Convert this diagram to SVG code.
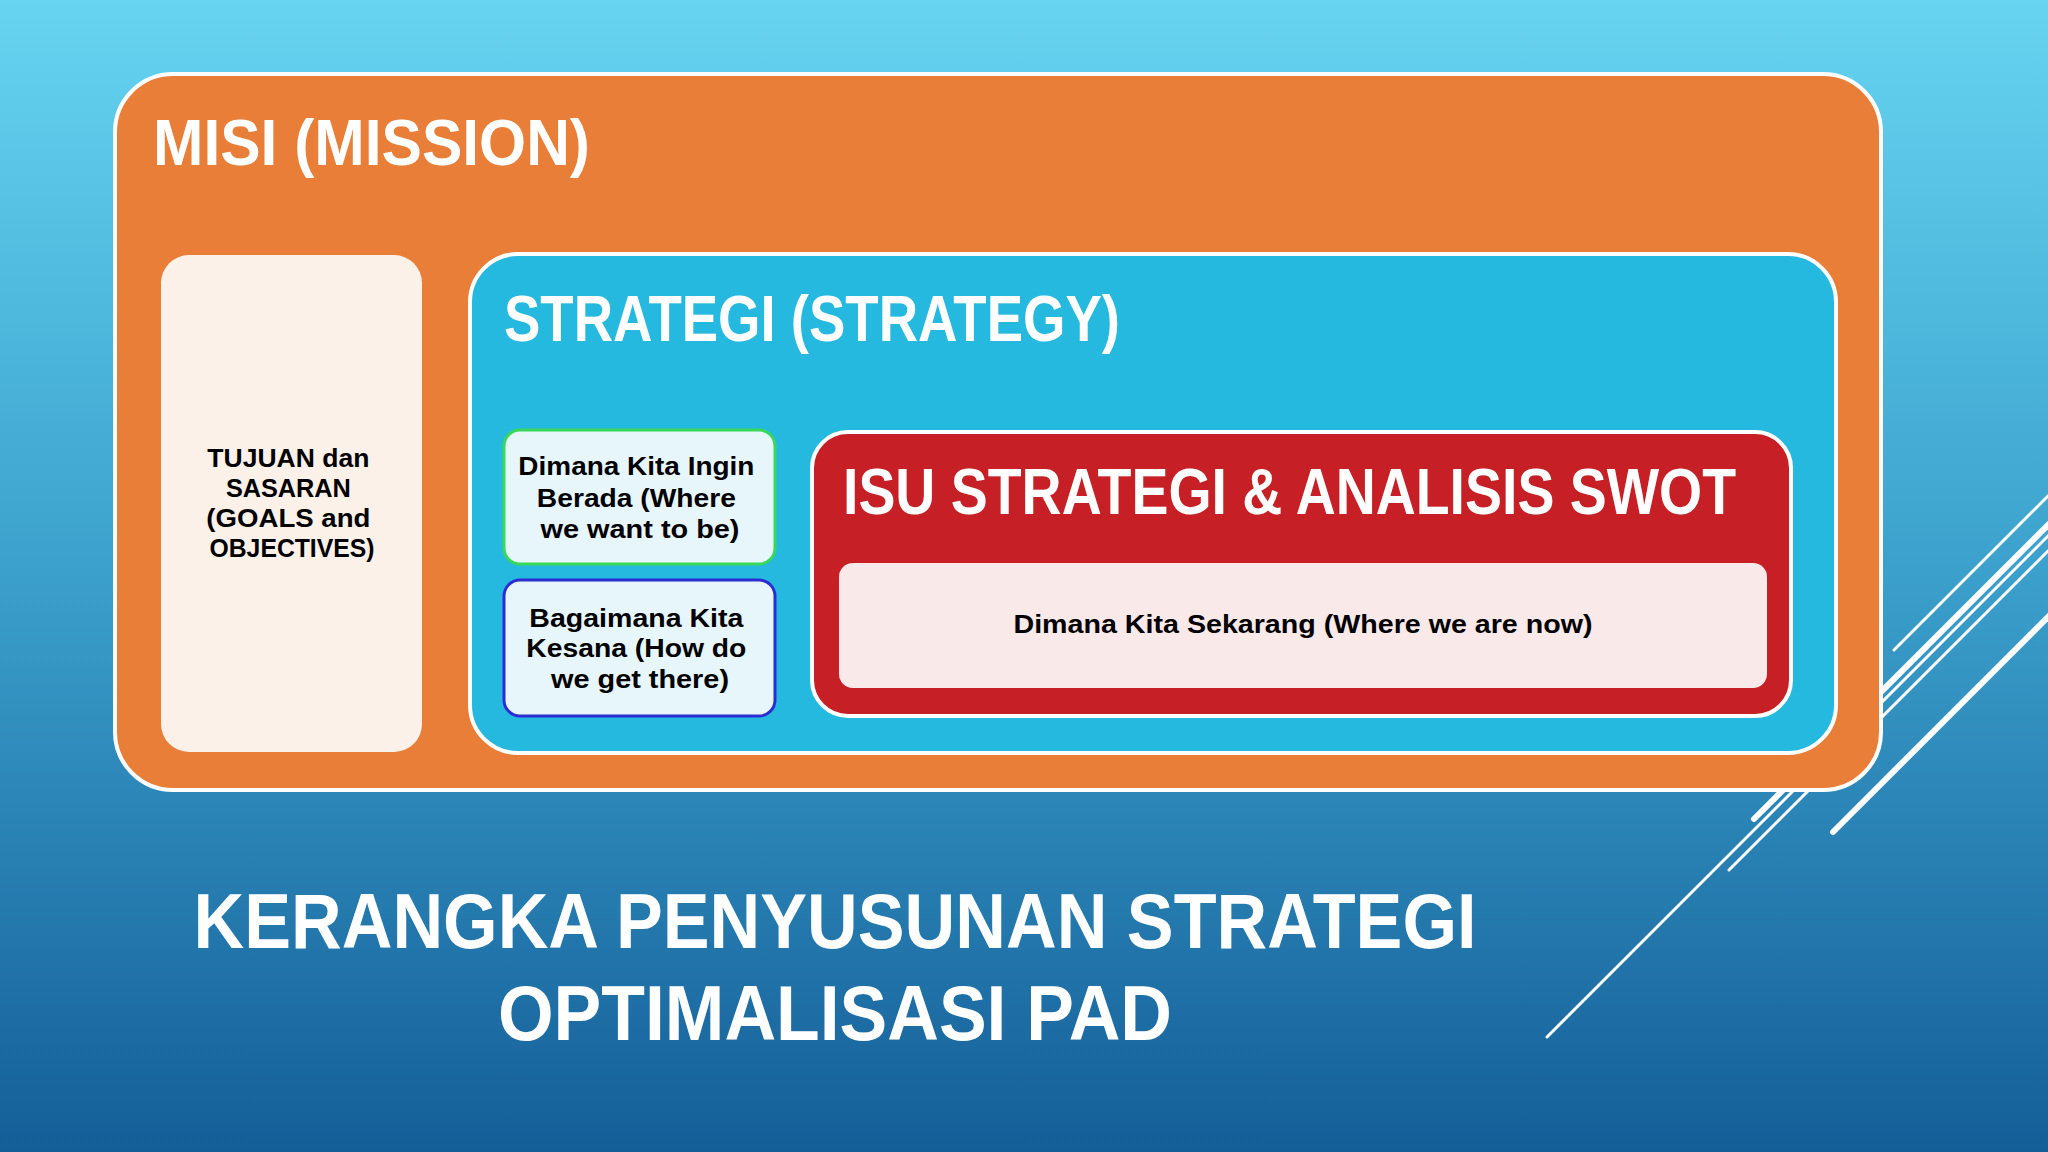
<svg xmlns="http://www.w3.org/2000/svg" width="2048" height="1152" viewBox="0 0 2048 1152">
  <defs>
    <linearGradient id="bg" x1="0" y1="0" x2="0" y2="1">
      <stop offset="0" stop-color="#67D4F1"/>
      <stop offset="0.45" stop-color="#3FA6D0"/>
      <stop offset="1" stop-color="#145E98"/>
    </linearGradient>
    <style>
      .head { font-family: "Liberation Sans", Arial, sans-serif; font-weight: 700; fill: #FFFFFF; }
      .body { font-family: "Liberation Sans", Arial, sans-serif; font-weight: 700; fill: #000000; }
      .deco { stroke: #FFFFFF; stroke-linecap: round; fill: none; }
      .thin { stroke-width: 3; }
      .thick { stroke-width: 6; }
      .box { stroke: #FFFFFF; stroke-width: 4; }
    </style>
  </defs>

  <rect x="0" y="0" width="2048" height="1152" fill="url(#bg)"/>

  <g id="decor-lines">
    <line class="deco thin" x1="1894" y1="650" x2="2060" y2="484"/>
    <line class="deco thick" x1="1754" y1="819" x2="2060" y2="513"/>
    <line class="deco thin" x1="1547" y1="1037" x2="2060" y2="524"/>
    <line class="deco thin" x1="1729" y1="870" x2="2060" y2="539"/>
    <line class="deco thick" x1="1833" y1="832" x2="2060" y2="605"/>
  </g>

  <g id="misi">
    <rect class="box" x="115" y="74" width="1766" height="716" rx="58" fill="#E87E37"/>
    <text class="head" x="153" y="165" font-size="64" textLength="437" lengthAdjust="spacingAndGlyphs">MISI (MISSION)</text>
  </g>

  <g id="tujuan">
    <rect x="161" y="255" width="261" height="497" rx="28" fill="#FBF1E9"/>
    <text class="body" font-size="26" text-anchor="middle">
      <tspan x="292" y="467" textLength="162" lengthAdjust="spacingAndGlyphs">TUJUAN dan</tspan>
      <tspan x="292" y="497" textLength="125" lengthAdjust="spacingAndGlyphs">SASARAN</tspan>
      <tspan x="292" y="527" textLength="164" lengthAdjust="spacingAndGlyphs">(GOALS and</tspan>
      <tspan x="292" y="557" textLength="165" lengthAdjust="spacingAndGlyphs">OBJECTIVES)</tspan>
    </text>
  </g>

  <g id="strategi">
    <rect class="box" x="470" y="254" width="1366" height="499" rx="48" fill="#26B9DF"/>
    <text class="head" x="504" y="341" font-size="64" textLength="616" lengthAdjust="spacingAndGlyphs">STRATEGI (STRATEGY)</text>
  </g>

  <g id="dimana-ingin">
    <rect x="504" y="430" width="271" height="134" rx="16" fill="#E6F6FA" stroke="#38D85A" stroke-width="3"/>
    <text class="body" font-size="26" text-anchor="middle">
      <tspan x="640" y="475" textLength="236" lengthAdjust="spacingAndGlyphs">Dimana Kita Ingin</tspan>
      <tspan x="640" y="507" textLength="199" lengthAdjust="spacingAndGlyphs">Berada (Where</tspan>
      <tspan x="640" y="538" textLength="199" lengthAdjust="spacingAndGlyphs">we want to be)</tspan>
    </text>
  </g>

  <g id="bagaimana">
    <rect x="504" y="580" width="271" height="136" rx="16" fill="#E6F6FA" stroke="#2C2CD4" stroke-width="3"/>
    <text class="body" font-size="26" text-anchor="middle">
      <tspan x="640" y="627" textLength="214" lengthAdjust="spacingAndGlyphs">Bagaimana Kita</tspan>
      <tspan x="640" y="657" textLength="220" lengthAdjust="spacingAndGlyphs">Kesana (How do</tspan>
      <tspan x="640" y="688" textLength="178" lengthAdjust="spacingAndGlyphs">we get there)</tspan>
    </text>
  </g>

  <g id="isu-swot">
    <rect class="box" x="812" y="432" width="979" height="284" rx="36" fill="#C62026"/>
    <text class="head" x="843" y="514" font-size="64" textLength="893" lengthAdjust="spacingAndGlyphs">ISU STRATEGI &amp; ANALISIS SWOT</text>
  </g>

  <g id="sekarang">
    <rect x="839" y="563" width="928" height="125" rx="14" fill="#F9E9E9"/>
    <text class="body" x="1303" y="633" font-size="25" text-anchor="middle" textLength="579" lengthAdjust="spacingAndGlyphs">Dimana Kita Sekarang (Where we are now)</text>
  </g>

  <g id="title">
    <text class="head" x="835" y="948" font-size="77" text-anchor="middle" textLength="1283" lengthAdjust="spacingAndGlyphs">KERANGKA PENYUSUNAN STRATEGI</text>
    <text class="head" x="835" y="1040" font-size="77" text-anchor="middle" textLength="674" lengthAdjust="spacingAndGlyphs">OPTIMALISASI PAD</text>
  </g>
</svg>
